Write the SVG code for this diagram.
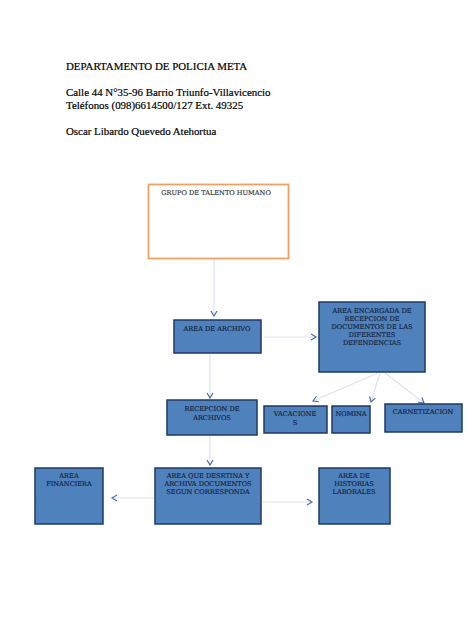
<svg xmlns="http://www.w3.org/2000/svg" width="474" height="632" viewBox="0 0 474 632">
<defs>
<marker id="chev" markerWidth="8" markerHeight="8" refX="6" refY="4" orient="auto" markerUnits="userSpaceOnUse">
<path d="M1,1 L6,4 L1,7" fill="none" stroke="#4a6fa5" stroke-width="1.2"/>
</marker>
<style>
.hdr{font-family:"Liberation Serif","Times New Roman",serif;font-size:10.9px;fill:#000;stroke:#000;stroke-width:0.2}
.box{fill:#4f81bd;stroke:#1f3a63;stroke-width:1.5}
.lbl{font-family:"DejaVu Serif","Liberation Serif",serif;font-size:6.6px;fill:#15213a;text-anchor:middle;stroke:#15213a;stroke-width:0.15}
.con{stroke:#dde3ec;stroke-width:1.2;fill:none;marker-end:url(#chev)}
</style>
</defs>
<rect width="474" height="632" fill="#fff"/>
<g id="header">
<text class="hdr" x="66" y="70">DEPARTAMENTO DE POLICIA META</text>
<text class="hdr" x="66" y="96">Calle 44 N°35-96 Barrio Triunfo-Villavicencio</text>
<text class="hdr" x="66" y="109">Teléfonos (098)6614500/127 Ext. 49325</text>
<text class="hdr" x="66" y="135">Oscar Libardo Quevedo Atehortua</text>
</g>
<g id="connectors">
<line class="con" x1="214" y1="259" x2="214" y2="316"/>
<line class="con" x1="264" y1="337" x2="316" y2="337"/>
<line class="con" x1="210" y1="354" x2="210" y2="398"/>
<line class="con" x1="378" y1="373" x2="313" y2="401"/>
<line class="con" x1="380" y1="373" x2="371" y2="402"/>
<line class="con" x1="385" y1="373" x2="424" y2="403"/>
<line class="con" x1="210" y1="436" x2="210" y2="465"/>
<line class="con" x1="155" y1="498" x2="112" y2="498"/>
<line class="con" x1="263" y1="502" x2="312" y2="502"/>
</g>
<g id="n-talento">
<rect x="148.5" y="184.5" width="140" height="74" fill="#fff" stroke="#f0a060" stroke-width="1.8"/>
<text class="lbl" x="216" y="195" style="fill:#333;stroke:#333">GRUPO DE TALENTO HUMANO</text>
</g>
<g id="n-archivo">
<rect class="box" x="174" y="320" width="87" height="33"/>
<text class="lbl" x="217" y="331">AREA DE ARCHIVO</text>
</g>
<g id="n-encargada">
<rect class="box" x="319" y="302" width="106" height="70"/>
<text class="lbl" x="372" y="313">AREA ENCARGADA DE</text>
<text class="lbl" x="372" y="321">RECEPCION DE</text>
<text class="lbl" x="372" y="329">DOCUMENTOS DE LAS</text>
<text class="lbl" x="372" y="337">DIFERENTES</text>
<text class="lbl" x="372" y="345">DEFENDENCIAS</text>
</g>
<g id="n-recepcion">
<rect class="box" x="167" y="400" width="90" height="35"/>
<text class="lbl" x="212" y="411">RECEPCION DE</text>
<text class="lbl" x="212" y="420">ARCHIVOS</text>
</g>
<g id="n-vacaciones">
<rect class="box" x="264" y="406" width="63" height="27"/>
<text class="lbl" x="295" y="416">VACACIONE</text>
<text class="lbl" x="295" y="425">S</text>
</g>
<g id="n-nomina">
<rect class="box" x="332" y="406" width="38" height="27"/>
<text class="lbl" x="351" y="416">NOMINA</text>
</g>
<g id="n-carnet">
<rect class="box" x="385" y="404" width="77" height="28"/>
<text class="lbl" x="423" y="414">CARNETIZACION</text>
</g>
<g id="n-financiera">
<rect class="box" x="35" y="468" width="68" height="56"/>
<text class="lbl" x="69" y="478">AREA</text>
<text class="lbl" x="69" y="486">FINANCIERA</text>
</g>
<g id="n-destina">
<rect class="box" x="155" y="468" width="106" height="56"/>
<text class="lbl" x="208" y="478">AREA QUE DESRTINA Y</text>
<text class="lbl" x="208" y="486">ARCHIVA DOCUMENTOS</text>
<text class="lbl" x="208" y="494">SEGUN CORRESPONDA</text>
</g>
<g id="n-historias">
<rect class="box" x="319" y="468" width="71" height="56"/>
<text class="lbl" x="354" y="478">AREA DE</text>
<text class="lbl" x="354" y="486">HISTORIAS</text>
<text class="lbl" x="354" y="494">LABORALES</text>
</g>
</svg>
